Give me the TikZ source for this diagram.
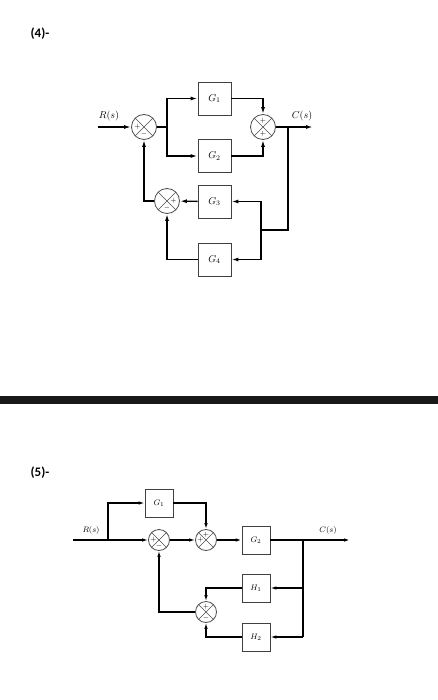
\documentclass[tikz,border=0pt]{standalone}
\usepackage{fontspec}
\newfontfamily\headfont{Carlito}
\usetikzlibrary{arrows.meta,positioning}

\tikzset{
  block/.style={draw=black!75,line width=0.8pt,minimum size=33pt,inner sep=0pt,font=\normalsize},
  smallblock/.style={block,minimum size=28pt,font=\footnotesize},
  sumnode/.style={circle,draw=black!70,line width=0.8pt,fill=white,minimum size=25pt,inner sep=0pt,
    path picture={\draw[black!70,line width=0.6pt]
      (path picture bounding box.north west) -- (path picture bounding box.south east)
      (path picture bounding box.north east) -- (path picture bounding box.south west);}},
  smallsum/.style={sumnode,minimum size=21pt},
  sgn/.style={font=\fontsize{7}{7}\selectfont,inner sep=0pt},
  sig/.style={line width=1.4pt,-{Latex[length=7pt,width=4pt]}},
  wire/.style={line width=1.4pt},
  thinsig/.style={line width=1.1pt,-{Latex[length=6pt,width=3.5pt]}},
  thinwire/.style={line width=1.1pt},
  heading/.style={font=\headfont\bfseries\fontsize{13}{15}\selectfont},
}

\begin{document}
\begin{tikzpicture}[x=1pt,y=-1pt]
\useasboundingbox (0,0) rectangle (438,700);

% ---- problem 4 ----
\node[heading] (lab4) at (40,34) {(4)-};
\node[sumnode] (sA) at (144,127) {};
\node[sgn] at ([xshift=-6.5pt]sA.center) {$+$};
\node[sgn] at ([yshift=-6.5pt]sA.center) {$-$};
\node[sumnode] (sB) at (263,127) {};
\node[sgn] at ([yshift=6.5pt]sB.center) {$+$};
\node[sgn] at ([yshift=-6.5pt]sB.center) {$+$};
\node[sumnode] (sC) at (167,201) {};
\node[sgn] at ([xshift=6.5pt]sC.center) {$+$};
\node[sgn] at ([yshift=-6.5pt]sC.center) {$-$};

\node[block] (g1) at (214.5,98.5) {$G_1$};
\node[block] (g2) at (214.5,156) {$G_2$};
\node[block] (g3) at (214.5,201.5) {$G_3$};
\node[block] (g4) at (214.5,259.5) {$G_4$};

\coordinate (r4) at (98,127);
\coordinate (b4) at (167,127);
\coordinate (c4) at (313,127);
\coordinate (t4) at (288,127);
\coordinate (k4) at (288,230);
\coordinate (j4) at (261,230);
\node[font=\normalsize] (lr4) at (109,116) {$R(s)$};
\node[font=\normalsize] (lc4) at (302,116) {$C(s)$};

\draw[sig] (r4) -- (sA);
\draw[wire] (sA) -- (b4);
\draw[sig] (b4) |- (g1);
\draw[sig] (b4) |- (g2);
\draw[sig] (g1) -| (sB);
\draw[sig] (g2) -| (sB);
\draw[sig] (sB) -- (c4);
\draw[wire] (t4) -- (k4) -- (j4);
\draw[sig] (j4) |- (g3);
\draw[sig] (j4) |- (g4);
\draw[sig] (g3) -- (sC);
\draw[sig] (g4) -| (sC);
\draw[sig] (sC) -| (sA);

% separator
\fill[black!90] (0,396) rectangle (438,404);

% ---- problem 5 ----
\node[heading] (lab5) at (40,473) {(5)-};
\node[smallsum] (sD) at (159,540) {};
\node[sgn] at ([xshift=-5.5pt]sD.center) {$+$};
\node[sgn] at ([yshift=-5.5pt]sD.center) {$-$};
\node[smallsum] (sE) at (206,540) {};
\node[sgn] at ([yshift=5.5pt]sE.center) {$+$};
\node[sgn] at ([xshift=-5.5pt]sE.center) {$+$};
\node[smallsum] (sF) at (206,612) {};
\node[sgn] at ([yshift=5.5pt]sF.center) {$+$};
\node[sgn] at ([yshift=-5.5pt]sF.center) {$-$};

\node[smallblock] (h1g) at (159,503) {$G_1$};
\node[smallblock] (h2g) at (256,540) {$G_2$};
\node[smallblock] (hh1) at (256,588) {$H_1$};
\node[smallblock] (hh2) at (256,637) {$H_2$};

\coordinate (r5) at (73,540);
\coordinate (b5) at (108,540);
\coordinate (c5) at (350,540);
\coordinate (t5) at (303,540);
\coordinate (k5) at (303,637);
\node[font=\footnotesize] (lr5) at (91,530) {$R(s)$};
\node[font=\footnotesize] (lc5) at (328,530) {$C(s)$};

\draw[thinwire] (r5) -- (b5);
\draw[thinsig] (b5) -- (sD);
\draw[thinsig] (b5) |- (h1g);
\draw[thinsig,line width=1.8pt] (h1g) -| (sE);
\draw[thinsig] (sD) -- (sE);
\draw[thinsig,line width=1.6pt] (sE) -- (h2g);
\draw[thinsig,line width=1.6pt] (h2g) -- (c5);
\draw[thinwire,line width=1.6pt] (t5) -- (k5);
\draw[thinsig] (t5 |- hh1) -- (hh1);
\draw[thinsig] (k5) -- (hh2);
\draw[thinsig] (hh1) -| (sF);
\draw[thinsig] (hh2) -| (sF);
\draw[thinsig] (sF) -| (sD);
\end{tikzpicture}
\end{document}
